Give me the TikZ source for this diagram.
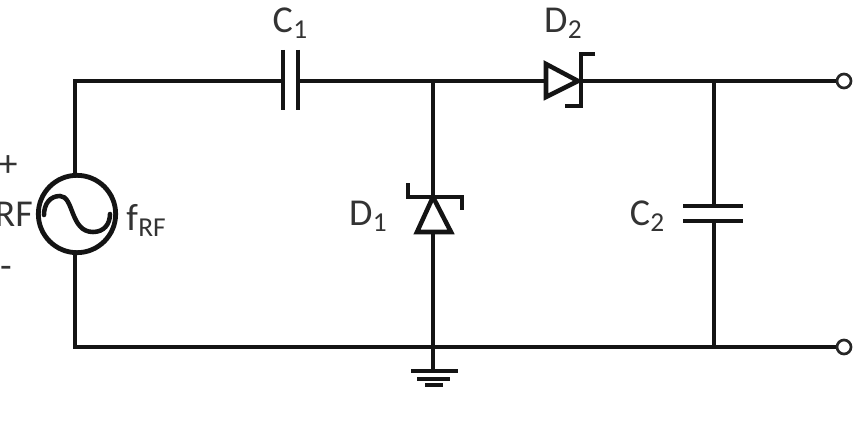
\documentclass[tikz,border=0pt]{standalone}
\usepackage{fontspec}
\setmainfont{Carlito}
\newcommand{\lbl}[2]{#1\kern0.3pt\raisebox{-4.5pt}{\fontsize{20.5}{20.5}\selectfont #2}}
\tikzset{
  wire/.style={line width=3.4pt,color=black!92},
  thin wire/.style={line width=3pt,color=black!92},
  part/.style={line width=3.4pt,color=black!92,line cap=butt},
  lab/.style={font=\fontsize{28.5}{28.5}\selectfont,color=black!80,inner sep=0pt},
  terminal/.style={circle,draw=black!85,fill=white,line width=2pt,minimum size=10.5pt,inner sep=0pt},
  source/.style={circle,draw=black!92,fill=white,line width=3.6pt,minimum size=58pt,inner sep=0pt}
}
\begin{document}
\begin{tikzpicture}[x=0.75pt,y=-0.75pt]
\useasboundingbox (0,0) rectangle (856,431);
% junctions
\coordinate (tl) at (75,81);
\coordinate (bl) at (75,347);
\coordinate (c1a) at (283,81);
\coordinate (c1b) at (298,81);
\coordinate (jt1) at (433,81);
\coordinate (jb1) at (433,347);
\coordinate (d2a) at (545,81);
\coordinate (d2k) at (581,81);
\coordinate (jt2) at (714,81);
\coordinate (jb2) at (714,347);
\coordinate (d1k) at (433,197);
\coordinate (d1a) at (433,232);
\coordinate (c2a) at (714,206);
\coordinate (c2b) at (714,221);
\coordinate (gnd) at (433,371);
\node[source] (src) at (77,214) {};
\node[terminal] (t1) at (844,81) {};
\node[terminal] (t2) at (844,347) {};
% wires
\draw[wire,line join=miter] (src.north -| tl) -- (tl) -- (c1a);
\draw[wire] (c1b) -- (jt1) -- (d2a);
\draw[wire] (d2k) -- (jt2) -- (t1);
\draw[wire,line join=miter] (src.south -| bl) -- (bl) -- (jb1) -- (jb2) -- (t2);
\draw[wire] (jt1) -- (d1k);
\draw[wire] (d1a) -- (jb1) -- (gnd);
\draw[thin wire] (jt2) -- (c2a);
\draw[thin wire] (c2b) -- (jb2);
% sine
\draw[part,line cap=round] (44,215) .. controls (44,204) and (50,196) .. (60,196)
  .. controls (74,196) and (70,232) .. (93,232)
  .. controls (104,232) and (110,224) .. (110,214);
% C1
\draw[part] (283,50) -- (283,110);
\draw[part] (298,50) -- (298,110);
% C2
\draw[part] (683,206) -- (743,206);
\draw[part] (683,221) -- (743,221);
% D1
\draw[part,fill=white,line join=miter] (d1k) -- (417,232) -- (451,232) -- cycle;
\draw[part,line join=miter] (408,183) -- (408,197) -- (462,197) -- (462,210);
% D2
\draw[part,fill=white,line join=miter] (578,81) -- (546,64) -- (546,97) -- cycle;
\draw[part,line join=miter] (595,54) -- (581,54) -- (581,106) -- (565,106);
% ground
\draw[part] (411,371) -- (458,371);
\draw[part] (417,379) -- (450,379);
\draw[part] (425,385) -- (443,385);
% labels
\node[lab] (lc1) at (290,23) {\lbl{C}{1}};
\node[lab] (ld2) at (563,23) {\lbl{D}{2}};
\node[lab] (ld1) at (368,216) {\lbl{D}{1}};
\node[lab] (lc2) at (647,216) {\lbl{C}{2}};
\node[lab] (lf) at (146,220) {\lbl{f}{RF}};
\node[lab,anchor=east] (lrf) at (33,214) {RF};
\node[lab] (lp) at (8,166) {+};
\node[lab] (lm) at (6,272) {-};
\end{tikzpicture}
\end{document}
